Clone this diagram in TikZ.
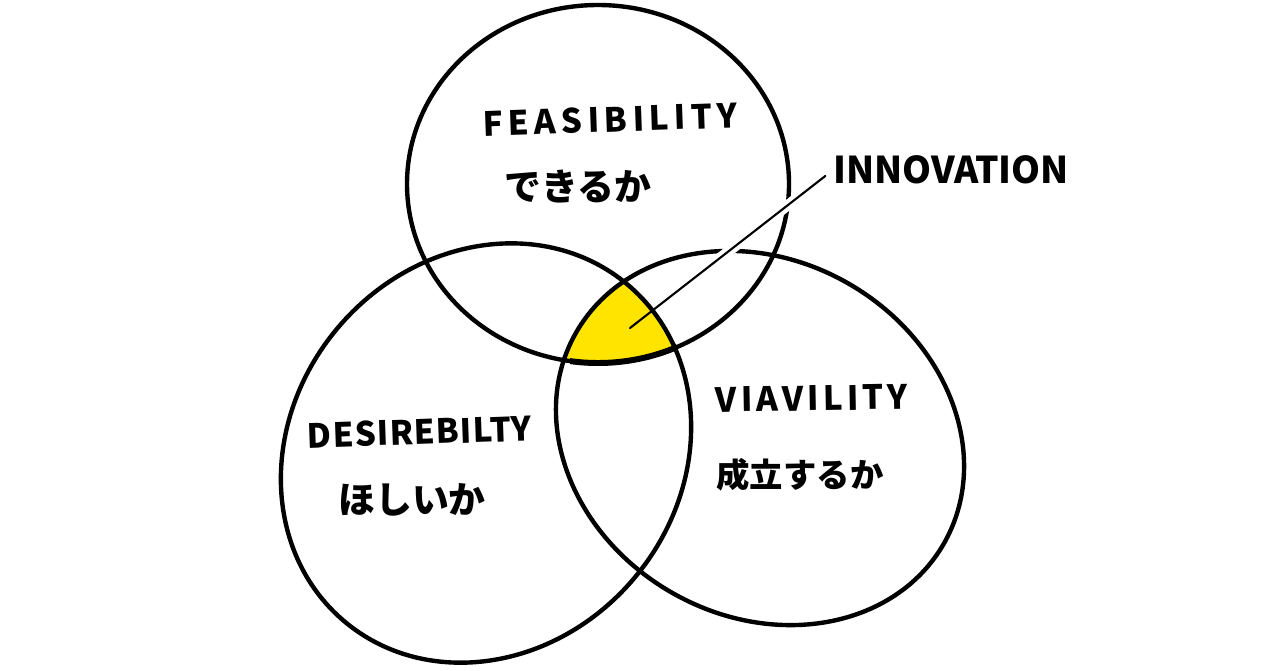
\documentclass[tikz,border=0pt]{standalone}
\usepackage{fontspec}
\usepackage{tikz}
\usetikzlibrary{calc}

\newfontfamily\handjp{Noto Sans CJK JP}
\newfontfamily\handlat{Noto Sans CJK JP}
\definecolor{idea}{RGB}{255,228,0}

\begin{document}
\begin{tikzpicture}[
        x=0.02cm,
        y=-0.02cm,
        line cap=round,
        line join=round,
        ring/.style={line width=2.5pt},
        word/.style={font=\handlat\bfseries\fontsize{19}{22}\selectfont, inner sep=0pt, anchor=west},
        kana/.style={font=\handjp\bfseries\fontsize{21}{24}\selectfont, inner sep=0pt}
    ]
        \useasboundingbox (0,0) rectangle (1280,670);

        % yellow core: where all three meet
        \begin{scope}
            \clip (598,184) ellipse [x radius=191, y radius=179];
            \clip[rotate around={50:(486,453)}] (486,453) ellipse [x radius=220, y radius=194];
            \fill[idea, rotate around={-30:(760,438)}] (760,438) ellipse [x radius=212, y radius=178];
        \end{scope}

        % the three circles
        \draw[ring] (598,184) ellipse [x radius=191, y radius=179];
        \draw[ring, rotate around={50:(486,453)}] (486,453) ellipse [x radius=220, y radius=194];
        \draw[ring, rotate around={-30:(760,438)}] (760,438) ellipse [x radius=212, y radius=178];

        \begin{scope}
            \clip (570,300) rectangle (676,380);
            \draw[line width=3.4pt] (598,184) ellipse [x radius=191, y radius=179];
        \end{scope}

        % labels
        \node[word, rotate=2] (feasName) at (483,124) {\addfontfeature{LetterSpace=15}FEASIBILITY};
        \node[kana] (feasAsk) at (578,187) {できるか};

        \node[word, rotate=2] (desiName) at (307,436) {\addfontfeature{LetterSpace=3}DESIREBILTY};
        \node[kana] (desiAsk) at (412,500) {ほしいか};

        \node[word, rotate=1] (viabName) at (715,400) {\addfontfeature{LetterSpace=12}VIAVILITY};
        \node[kana, font=\handjp\bfseries\fontsize{19}{22}\selectfont] (viabAsk) at (800,475) {成立するか};

        \node[word, font=\handlat\bfseries\fontsize{21}{24}\selectfont] (innov) at (833,170) {INNOVATION};

        % leader
        \coordinate (core) at (630,328);
        \draw[white, line width=6pt, shorten >=5.5pt] ($(core)!0.3!(innov.west)$) -- (innov.west);
        \draw[line width=1.2pt, shorten >=5.5pt] (core) -- (innov.west);
    \end{tikzpicture}
\end{document}
